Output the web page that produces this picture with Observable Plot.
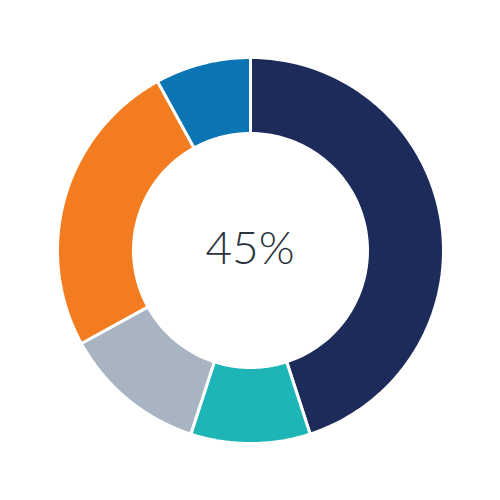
<!DOCTYPE html>
<html>
<head>
<meta charset="utf-8">
<script src="https://cdn.jsdelivr.net/npm/d3@7"></script>
<script src="https://cdn.jsdelivr.net/npm/@observablehq/plot@0.6"></script>
<style>
  html, body { margin: 0; padding: 0; background: #fff; }
  #chart { position: relative; width: 500px; height: 500px; }
  #center { position: absolute; left: 0; top: -4px; width: 500px; height: 500px; display: flex; align-items: center; justify-content: center; font-family: Lato, sans-serif; font-weight: 300; font-size: 46px; color: #2b333d; pointer-events: none; }
</style>
</head>
<body>
<div id="chart"><div id="center"></div></div>
<script>
const categories = ["A", "B", "C", "D", "E"];
const values = [45, 10, 12, 25, 8];
const colors = ["#1c2b5a", "#1db5b6", "#a9b4c3", "#f47c20", "#0b75b4"];
const centerLabel = "45%";

const outerR = 1;
const innerR = 117 / 193;
const half = 250 / 193;

const pie = d3.pie().sort(null).value(d => d.value)(categories.map((c, i) => ({category: c, value: values[i]})));
const pts = [];
for (const a of pie) {
  const n = 80;
  for (let k = 0; k <= n; k++) {
    const t = a.startAngle + (a.endAngle - a.startAngle) * k / n;
    pts.push({category: a.data.category, x: outerR * Math.sin(t), y: outerR * Math.cos(t)});
  }
  for (let k = n; k >= 0; k--) {
    const t = a.startAngle + (a.endAngle - a.startAngle) * k / n;
    pts.push({category: a.data.category, x: innerR * Math.sin(t), y: innerR * Math.cos(t)});
  }
}

const plot = Plot.plot({
  width: 500,
  height: 500,
  margin: 0,
  x: {domain: [-half, half], axis: null},
  y: {domain: [-half, half], axis: null},
  color: {domain: categories, range: colors},
  marks: [
    Plot.line(pts, {x: "x", y: "y", z: "category", fill: "category", stroke: "white", strokeWidth: 3, curve: "linear-closed", strokeLinejoin: "miter"})
  ]
});
document.getElementById("chart").prepend(plot);
document.getElementById("center").textContent = centerLabel;
</script>
</body>
</html>
